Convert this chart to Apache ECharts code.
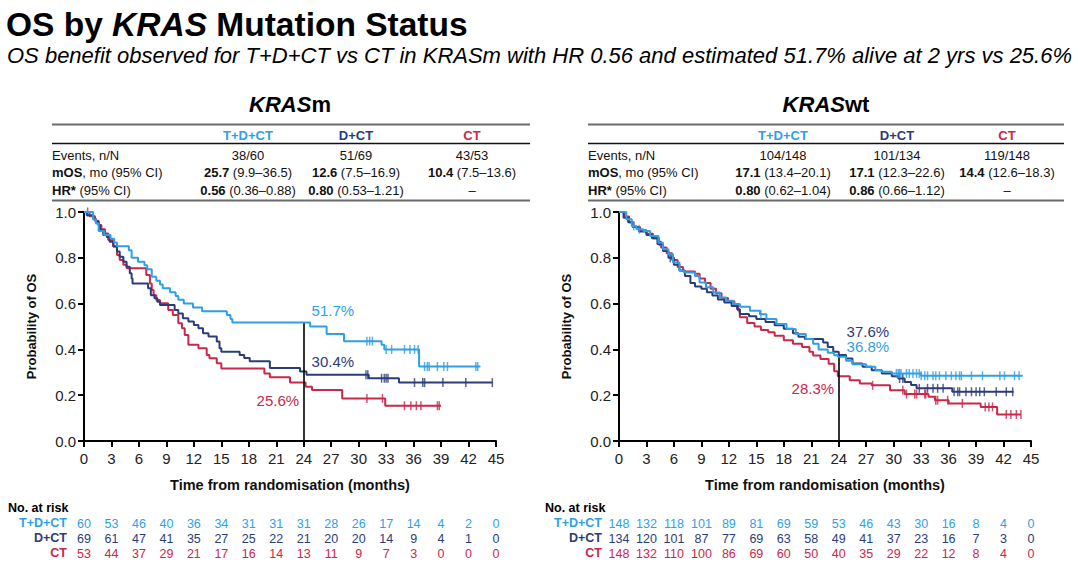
<!DOCTYPE html>
<html><head><meta charset="utf-8">
<script src="https://cdn.jsdelivr.net/npm/echarts@6/dist/echarts.min.js"></script>
<style>html,body{margin:0;padding:0;background:#fff}#c{width:1080px;height:567px}</style>
</head><body><div id="c"></div>
<script>
const FONT = 'Arial, "Liberation Sans", Helvetica, sans-serif';
const C_TDC = '#2f9fe6', C_DC = '#2b3d78', C_CT = '#c9284b';
const ARM_COLORS = [C_TDC, C_DC, C_CT];

const armNames = ['T+D+CT', 'D+CT', 'CT'];
const rowLabels = ['Events, n/N', '{b|mOS}, mo (95% CI)', '{b|HR*} (95% CI)'];
const panelTitles = ['KRAS|m', 'KRAS|wt'];

// ---------- KRASm ----------
const mEvents = ['38/60', '51/69', '43/53'];
const mMOS = ['25.7', '12.6', '10.4'];
const mMOSci = ['9.9–36.5', '7.5–16.9', '7.5–13.6'];
const mHR = ['0.56', '0.80', null];
const mHRci = ['0.36–0.88', '0.53–1.21', null];
const mRiskTDC = [60, 53, 46, 40, 36, 34, 31, 31, 31, 28, 26, 17, 14, 4, 2, 0];
const mRiskDC = [69, 61, 47, 41, 35, 27, 25, 22, 21, 20, 20, 14, 9, 4, 1, 0];
const mRiskCT = [53, 44, 37, 29, 21, 17, 16, 14, 13, 11, 9, 7, 3, 0, 0, 0];
const mLandmark = ['51.7%', '30.4%', '25.6%'];
const mLandmarkTop = 0.517;

const mCurveTDC = [[0,1],[1.0,0.967],[1.3,0.95],[1.6,0.917],[2.2,0.9],[2.9,0.883],[3.3,0.867],[3.6,0.85],[4.9,0.833],[5.2,0.8],[5.9,0.783],[6.6,0.767],[6.9,0.75],[7.4,0.717],[7.9,0.7],[8.3,0.683],[8.6,0.667],[9.4,0.65],[10.0,0.633],[10.3,0.617],[10.9,0.6],[11.9,0.583],[12.9,0.567],[15.6,0.55],[16.0,0.533],[16.2,0.517],[24.7,0.5],[26.5,0.467],[28.4,0.436],[32.5,0.42],[32.8,0.4],[36.6,0.325],[43.3,0.325]];
const mCurveDC = [[0,1],[0.3,0.986],[1.0,0.971],[1.3,0.957],[1.6,0.942],[1.75,0.92],[2.1,0.9],[2.5,0.89],[2.8,0.87],[3.2,0.849],[3.6,0.827],[3.9,0.805],[4.3,0.783],[4.65,0.761],[5.0,0.732],[5.2,0.71],[5.3,0.688],[7.0,0.667],[7.3,0.637],[7.7,0.623],[8.0,0.608],[8.3,0.594],[9.9,0.572],[10.3,0.557],[10.8,0.536],[11.4,0.522],[12.0,0.507],[12.5,0.492],[13.0,0.47],[13.6,0.456],[14.5,0.434],[14.8,0.405],[15.0,0.39],[17.0,0.376],[17.5,0.362],[18.1,0.348],[20.3,0.319],[23.6,0.304],[24.3,0.289],[31.1,0.274],[34.4,0.255],[44.6,0.255]];
const mCurveCT = [[0,1],[0.6,0.981],[1.2,0.962],[1.6,0.943],[1.9,0.925],[2.3,0.906],[2.65,0.878],[3.2,0.85],[3.6,0.812],[3.9,0.79],[4.3,0.77],[4.65,0.754],[6.8,0.725],[7.2,0.688],[7.4,0.659],[7.6,0.637],[7.9,0.616],[8.3,0.601],[9.2,0.572],[9.7,0.55],[10.3,0.514],[10.7,0.492],[11.0,0.463],[11.4,0.42],[12.5,0.405],[13.4,0.376],[13.7,0.361],[14.5,0.339],[15.0,0.317],[19.7,0.295],[20.3,0.278],[22.5,0.256],[24.2,0.237],[24.9,0.223],[28.2,0.186],[32.9,0.154],[39.0,0.154]];
const mCensTDC = [30.9,31.2,31.5,33.0,33.6,35.0,35.6,36.1,36.5,37.2,37.5,37.7,38.6,39.3,39.7,42.8,43.0];
const mCensDC = [30.8,31.0,32.5,32.8,33.0,33.2,36.1,37.0,37.2,39.2,41.7,44.6];
const mCensCT = [0.4,30.9,32.6,35.0,35.7,36.3,36.8,38.6,38.8];

// ---------- KRASwt ----------
const wEvents = ['104/148', '101/134', '119/148'];
const wMOS = ['17.1', '17.1', '14.4'];
const wMOSci = ['13.4–20.1', '12.3–22.6', '12.6–18.3'];
const wHR = ['0.80', '0.86', null];
const wHRci = ['0.62–1.04', '0.66–1.12', null];
const wRiskTDC = [148, 132, 118, 101, 89, 81, 69, 59, 53, 46, 43, 30, 16, 8, 4, 0];
const wRiskDC = [134, 120, 101, 87, 77, 69, 63, 58, 49, 41, 37, 23, 16, 7, 3, 0];
const wRiskCT = [148, 132, 110, 100, 86, 69, 60, 50, 40, 35, 29, 22, 12, 8, 4, 0];
const wLandmark = ['36.8%', '37.6%', '28.3%'];
const wLandmarkTop = 0.376;

const wCurveTDC = [[0,1],[0.8,0.968],[1.4,0.939],[1.9,0.925],[2.65,0.917],[3.4,0.895],[4.3,0.866],[4.8,0.837],[5.4,0.816],[5.9,0.78],[6.6,0.743],[7.2,0.736],[8.3,0.721],[8.8,0.692],[9.5,0.671],[10.3,0.649],[11.0,0.627],[11.7,0.612],[12.5,0.598],[13.2,0.586],[14.3,0.569],[15.4,0.554],[16.1,0.533],[17.2,0.511],[18.3,0.489],[19.3,0.467],[20.4,0.445],[21.2,0.425],[21.8,0.4],[22.8,0.385],[23.5,0.375],[23.9,0.368],[24.8,0.35],[25.5,0.335],[27.0,0.324],[28.0,0.309],[28.7,0.302],[29.8,0.295],[33.0,0.285],[44.1,0.285]];
const wCurveDC = [[0,1],[0.5,0.975],[1.0,0.955],[1.5,0.935],[2.2,0.915],[3.0,0.9],[3.6,0.885],[4.2,0.86],[4.8,0.83],[5.4,0.8],[6.0,0.77],[6.6,0.745],[7.2,0.72],[7.8,0.69],[8.3,0.675],[9.0,0.665],[9.6,0.65],[10.2,0.635],[10.8,0.618],[11.5,0.605],[12.3,0.59],[12.9,0.575],[13.2,0.555],[14.2,0.545],[15.0,0.533],[16.0,0.52],[17.0,0.505],[18.0,0.49],[19.0,0.47],[19.6,0.455],[20.3,0.445],[22.3,0.43],[22.8,0.41],[23.4,0.39],[24.0,0.376],[24.8,0.36],[25.5,0.338],[26.6,0.324],[27.6,0.309],[28.7,0.295],[29.8,0.283],[30.5,0.273],[31.2,0.258],[31.9,0.244],[32.5,0.23],[36.4,0.215],[43.1,0.215]];
const wCurveCT = [[0,1],[0.6,0.98],[1.1,0.955],[1.6,0.935],[2.3,0.92],[3.0,0.905],[3.7,0.885],[4.3,0.87],[4.6,0.845],[5.2,0.82],[5.8,0.79],[6.4,0.76],[7.0,0.74],[8.3,0.73],[8.8,0.71],[9.4,0.69],[10.0,0.665],[10.6,0.645],[11.2,0.625],[11.9,0.61],[12.6,0.595],[13.0,0.57],[13.2,0.54],[14.0,0.515],[14.8,0.5],[15.5,0.485],[16.3,0.475],[17.0,0.46],[18.0,0.44],[19.0,0.425],[20.0,0.41],[20.8,0.39],[21.2,0.373],[22.0,0.358],[22.9,0.337],[23.5,0.305],[23.9,0.283],[25.2,0.265],[26.3,0.251],[27.6,0.243],[29.6,0.222],[31.2,0.205],[33.8,0.193],[34.5,0.178],[36.0,0.164],[39.5,0.149],[41.3,0.116],[43.9,0.116]];
const wCensTDC = [1.6,2.2,15.5,30.3,30.5,30.65,30.8,31.4,31.7,32.1,32.5,32.8,33.0,33.4,33.7,34.3,34.6,35.0,35.7,36.3,36.8,37.2,37.4,38.5,39.7,41.6,42.1,43.2,43.7];
const wCensDC = [5.6,30.65,31.0,32.8,33.7,34.3,34.8,35.4,36.6,37.0,37.2,37.9,38.5,39.0,39.4,39.9,41.2,42.3,43.0];
const wCensCT = [4.4,27.7,31.0,31.4,32.3,32.5,33.4,33.5,34.6,34.8,35.9,37.5,40.0,40.4,40.8,42.3,42.8,43.4,43.9];

// ---------- build ----------
function survAt(curve, t) {
  let s = curve[0][1];
  for (const p of curve) { if (p[0] <= t) s = p[1]; else break; }
  return s;
}

const panels = [
  { left: 84, titleX: 290, tableX0: 52, tableX1: 530, cols: [248, 356, 472], riskLabelX: 67, noRiskX: 8,
    events: mEvents, mos: mMOS, mosci: mMOSci, hr: mHR, hrci: mHRci,
    risks: [mRiskTDC, mRiskDC, mRiskCT], curves: [mCurveTDC, mCurveDC, mCurveCT], cens: [mCensTDC, mCensDC, mCensCT],
    landmark: mLandmark, landTop: mLandmarkTop, topArm: 0,
    labelPos: [[24.8, 0.568], [24.8, 0.345], [18.8, 0.179]] },
  { left: 619, titleX: 826, tableX0: 588, tableX1: 1064, cols: [783, 897, 1007], riskLabelX: 602, noRiskX: 545,
    events: wEvents, mos: wMOS, mosci: wMOSci, hr: wHR, hrci: wHRci,
    risks: [wRiskTDC, wRiskDC, wRiskCT], curves: [wCurveTDC, wCurveDC, wCurveCT], cens: [wCensTDC, wCensDC, wCensCT],
    landmark: wLandmark, landTop: wLandmarkTop, topArm: 1,
    labelPos: [[24.8, 0.412], [24.8, 0.477], [18.8, 0.231]] }
];

const grids = [], xAxes = [], yAxes = [], series = [], graphics = [];

graphics.push({ type: 'text', x: 6, y: 24.5, style: { text: '{b|OS by }{bi|KRAS}{b| Mutation Status}', verticalAlign: 'middle', fill: '#000',
  rich: { b: { fontSize: 33.5, fontWeight: 'bold', fontFamily: FONT, fill: '#000' }, bi: { fontSize: 33.5, fontWeight: 'bold', fontStyle: 'italic', fontFamily: FONT, fill: '#000' } } } });
graphics.push({ type: 'text', x: 7, y: 55, style: { text: 'OS benefit observed for T+D+CT vs CT in KRASm with HR 0.56 and estimated 51.7% alive at 2 yrs vs 25.6%',
  verticalAlign: 'middle', fontSize: 22, fontStyle: 'italic', fontFamily: FONT, fill: '#000' } });

panels.forEach((p, gi) => {
  grids.push({ left: p.left, top: 212, width: 412, height: 229 });
  const base = xAxes.length;
  xAxes.push({ gridIndex: gi, type: 'value', min: 0, max: 45, interval: 3,
    name: 'Time from randomisation (months)', nameLocation: 'middle', nameGap: 36,
    nameTextStyle: { fontSize: 14.5, fontWeight: 'bold', color: '#111', fontFamily: FONT },
    axisLine: { onZero: false, lineStyle: { color: '#000', width: 2 } },
    axisTick: { length: 6, lineStyle: { color: '#000', width: 2 } },
    axisLabel: { fontSize: 15, color: '#222', margin: 10, fontFamily: FONT },
    splitLine: { show: false } });
  p.risks.forEach((r, i) => {
    xAxes.push({ gridIndex: gi, type: 'value', min: 0, max: 45, interval: 3, position: 'bottom', offset: 76 + 15 * i,
      axisLine: { show: false }, axisTick: { show: false }, splitLine: { show: false },
      axisLabel: { margin: 0, fontSize: 12.5, color: ARM_COLORS[i], fontFamily: FONT, showMinLabel: true, showMaxLabel: true, hideOverlap: false,
        formatter: v => String(r[Math.round(v / 3)]) } });
  });
  yAxes.push({ gridIndex: gi, type: 'value', min: 0, max: 1, interval: 0.2,
    name: 'Probability of OS', nameLocation: 'middle', nameGap: 46, nameRotate: 90,
    nameTextStyle: { fontSize: 13, fontWeight: 'bold', color: '#111', fontFamily: FONT },
    axisLine: { show: true, lineStyle: { color: '#000', width: 2 } },
    axisTick: { show: true, length: 6, lineStyle: { color: '#000', width: 2 } },
    axisLabel: { fontSize: 15, color: '#222', margin: 8, fontFamily: FONT, formatter: v => v.toFixed(1) },
    splitLine: { show: false } });

  const order = [2, 1, 0];
  order.forEach(i => {
    const s = {
      type: 'line', xAxisIndex: base, yAxisIndex: gi, data: p.curves[i], step: 'end', symbol: 'none',
      lineStyle: { color: ARM_COLORS[i], width: 2 }, itemStyle: { color: ARM_COLORS[i] }, z: 3 + (2 - i),
      markPoint: { symbol: 'circle', symbolSize: 1, itemStyle: { color: 'rgba(0,0,0,0)' },
        label: { show: true, position: 'right', distance: 0, color: ARM_COLORS[i], fontSize: 15, fontFamily: FONT, formatter: p.landmark[i] },
        data: [{ coord: p.labelPos[i] }] }
    };
    if (i === p.topArm) {
      s.markLine = { symbol: ['none', 'none'], silent: true, label: { show: false },
        lineStyle: { color: '#000', width: 1.6, type: 'solid' },
        data: [[{ coord: [24, 0] }, { coord: [24, p.landTop] }]] };
    }
    series.push(s);
    series.push({ type: 'scatter', xAxisIndex: base, yAxisIndex: gi, symbol: 'rect', symbolSize: [1.5, 9],
      itemStyle: { color: ARM_COLORS[i] }, z: 3 + (2 - i),
      data: p.cens[i].map(t => [t, survAt(p.curves[i], t)]) });
  });

  // panel title
  const ttl = panelTitles[gi].split('|');
  graphics.push({ type: 'text', x: p.titleX, y: 104, style: { text: '{bi|' + ttl[0] + '}{b|' + ttl[1] + '}', align: 'center', verticalAlign: 'middle',
    rich: { b: { fontSize: 22, fontWeight: 'bold', fontFamily: FONT, fill: '#000' }, bi: { fontSize: 22, fontWeight: 'bold', fontStyle: 'italic', fontFamily: FONT, fill: '#000' } } } });
  // table lines
  graphics.push({ type: 'line', shape: { x1: p.tableX0, y1: 124.5, x2: p.tableX1, y2: 124.5 }, style: { stroke: '#6b6b6b', lineWidth: 2.2 } });
  graphics.push({ type: 'line', shape: { x1: p.tableX0, y1: 143.5, x2: p.tableX1, y2: 143.5 }, style: { stroke: '#111', lineWidth: 1.4 } });
  graphics.push({ type: 'line', shape: { x1: p.tableX0, y1: 200.5, x2: p.tableX1, y2: 200.5 }, style: { stroke: '#6b6b6b', lineWidth: 2.2 } });
  const rowY = [155, 172.5, 190.5];
  const richStyles = { b: { fontSize: 13, fontWeight: 'bold', fontFamily: FONT, fill: '#111' } };
  rowLabels.forEach((lab, r) => {
    graphics.push({ type: 'text', x: p.tableX0, y: rowY[r], style: { text: lab, align: 'left', verticalAlign: 'middle', fontSize: 13, fontFamily: FONT, fill: '#111', rich: richStyles } });
  });
  armNames.forEach((nm, c) => {
    graphics.push({ type: 'text', x: p.cols[c], y: 135.5, style: { text: nm, align: 'center', verticalAlign: 'middle', fontSize: 13, fontWeight: 'bold', fontFamily: FONT, fill: ARM_COLORS[c] } });
    graphics.push({ type: 'text', x: p.cols[c], y: rowY[0], style: { text: p.events[c], align: 'center', verticalAlign: 'middle', fontSize: 13, fontFamily: FONT, fill: '#111' } });
    graphics.push({ type: 'text', x: p.cols[c], y: rowY[1], style: { text: '{b|' + p.mos[c] + '} (' + p.mosci[c] + ')', align: 'center', verticalAlign: 'middle', fontSize: 13, fontFamily: FONT, fill: '#111', rich: richStyles } });
    graphics.push({ type: 'text', x: p.cols[c], y: rowY[2], style: { text: p.hr[c] ? '{b|' + p.hr[c] + '} (' + p.hrci[c] + ')' : '–', align: 'center', verticalAlign: 'middle', fontSize: 13, fontFamily: FONT, fill: '#111', rich: richStyles } });
  });
  // at-risk labels
  graphics.push({ type: 'text', x: p.noRiskX, y: 508, style: { text: 'No. at risk', align: 'left', verticalAlign: 'middle', fontSize: 12.5, fontWeight: 'bold', fontFamily: FONT, fill: '#000' } });
  armNames.forEach((nm, c) => {
    graphics.push({ type: 'text', x: p.riskLabelX, y: 523 + 15 * c, style: { text: nm, align: 'right', verticalAlign: 'middle', fontSize: 12.5, fontWeight: 'bold', fontFamily: FONT, fill: ARM_COLORS[c] } });
  });
});

const chart = echarts.init(document.getElementById('c'), null, { renderer: 'svg', width: 1080, height: 567 });
chart.setOption({
  animation: false,
  backgroundColor: '#fff',
  textStyle: { fontFamily: FONT },
  grid: grids, xAxis: xAxes, yAxis: yAxes, series: series, graphic: graphics
});
</script></body></html>
